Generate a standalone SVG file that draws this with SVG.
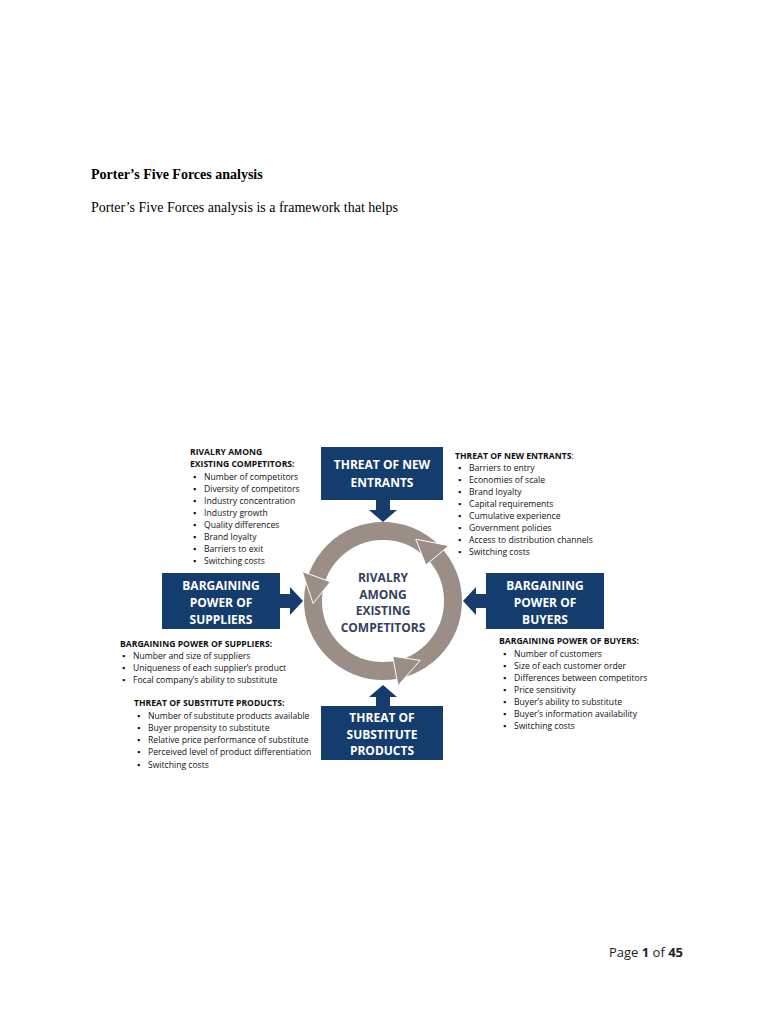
<svg xmlns="http://www.w3.org/2000/svg" width="768" height="1024" viewBox="0 0 768 1024">
<style>
.pg{font-family:"Liberation Serif",serif;font-size:14px;fill:#000}
.t{font-family:"Open Sans","Liberation Sans",sans-serif;font-size:8.6px;fill:#111}
.h{font-weight:bold}
.bx{fill:#143c6c}
.bt{font-family:"Open Sans","Liberation Sans",sans-serif;font-size:12px;font-weight:bold;fill:#fff;text-anchor:middle}
.ct{font-family:"Open Sans","Liberation Sans",sans-serif;font-size:12px;font-weight:bold;fill:#34405e;text-anchor:middle}
.ah{fill:#9a8e86;stroke:#fff;stroke-width:1}
</style>
<rect width="768" height="1024" fill="#fff"/>
<text class="pg h" x="91" y="179">Porter’s Five Forces analysis</text>
<text class="pg" x="91" y="212">Porter’s Five Forces analysis is a framework that helps</text>
<text x="609" y="957" font-family="Open Sans,Liberation Sans,sans-serif" font-size="13" fill="#222">Page <tspan font-weight="bold">1</tspan> of <tspan font-weight="bold">45</tspan></text>

<g id="ring">
<circle cx="383" cy="601" r="70" fill="none" stroke="#9a8e86" stroke-width="18"/>
<polygon class="ah" points="425.9,565 448.9,545.7 415.8,539.2"/>
<polygon class="ah" points="330.4,581.8 302.2,571.6 313.1,603.4"/>
<polygon class="ah" points="392.7,656.2 398,685.7 420.1,660.4"/>
<text class="ct" x="383" y="582">RIVALRY</text>
<text class="ct" x="383" y="599">AMONG</text>
<text class="ct" x="383" y="615">EXISTING</text>
<text class="ct" x="383" y="632">COMPETITORS</text>
</g>
<g id="connectors" class="bx">
<polygon points="376,500 390,500 390,510 397,510 383,522 369,510 376,510"/>
<polygon points="280,594 290,594 290,587 303,601 290,615 290,608 280,608"/>
<polygon points="486,594 476,594 476,587 463,601 476,615 476,608 486,608"/>
<polygon points="376,706 390,706 390,697 397,697 383,685 369,697 376,697"/>
</g>
<g id="new-entrants"><rect class="bx" x="321" y="447" width="122" height="53"/>
<text class="bt" x="382" y="469">THREAT OF NEW</text><text class="bt" x="382" y="487">ENTRANTS</text></g>
<g id="suppliers"><rect class="bx" x="162" y="573" width="118" height="56"/>
<text class="bt" x="221" y="590">BARGAINING</text><text class="bt" x="221" y="607">POWER OF</text><text class="bt" x="221" y="624">SUPPLIERS</text></g>
<g id="buyers"><rect class="bx" x="486" y="573" width="118" height="56"/>
<text class="bt" x="545" y="590">BARGAINING</text><text class="bt" x="545" y="607">POWER OF</text><text class="bt" x="545" y="624">BUYERS</text></g>
<g id="substitutes"><rect class="bx" x="321" y="706" width="122" height="54"/>
<text class="bt" x="382" y="722">THREAT OF</text><text class="bt" x="382" y="739">SUBSTITUTE</text><text class="bt" x="382" y="755">PRODUCTS</text></g>

<g id="rivalry-list" class="t">
<text class="h" x="190" y="455">RIVALRY AMONG</text>
<text class="h" x="190" y="467">EXISTING COMPETITORS:</text>
<g><text x="193" y="480">▪</text><text x="204" y="480">Number of competitors</text>
<text x="193" y="492">▪</text><text x="204" y="492">Diversity of competitors</text>
<text x="193" y="504">▪</text><text x="204" y="504">Industry concentration</text>
<text x="193" y="516">▪</text><text x="204" y="516">Industry growth</text>
<text x="193" y="528">▪</text><text x="204" y="528">Quality differences</text>
<text x="193" y="540">▪</text><text x="204" y="540">Brand loyalty</text>
<text x="193" y="552">▪</text><text x="204" y="552">Barriers to exit</text>
<text x="193" y="564">▪</text><text x="204" y="564">Switching costs</text></g>
</g>
<g id="entrants-list" class="t">
<text class="h" x="455" y="459">THREAT OF NEW ENTRANTS<tspan font-weight="normal">:</tspan></text>
<text x="458" y="471">▪</text><text x="469" y="471">Barriers to entry</text>
<text x="458" y="483">▪</text><text x="469" y="483">Economies of scale</text>
<text x="458" y="495">▪</text><text x="469" y="495">Brand loyalty</text>
<text x="458" y="507">▪</text><text x="469" y="507">Capital requirements</text>
<text x="458" y="519">▪</text><text x="469" y="519">Cumulative experience</text>
<text x="458" y="531">▪</text><text x="469" y="531">Government policies</text>
<text x="458" y="543">▪</text><text x="469" y="543">Access to distribution channels</text>
<text x="458" y="555">▪</text><text x="469" y="555">Switching costs</text>
</g>
<g id="suppliers-list" class="t">
<text class="h" x="120" y="647">BARGAINING POWER OF SUPPLIERS:</text>
<text x="122" y="659">▪</text><text x="133" y="659">Number  and size of suppliers</text>
<text x="122" y="671">▪</text><text x="133" y="671">Uniqueness of each supplier’s product</text>
<text x="122" y="683">▪</text><text x="133" y="683">Focal company’s ability to substitute</text>
</g>
<g id="substitutes-list" class="t">
<text class="h" x="134" y="706">THREAT OF SUBSTITUTE PRODUCTS:</text>
<text x="137" y="719">▪</text><text x="148" y="719">Number of substitute products available</text>
<text x="137" y="731">▪</text><text x="148" y="731">Buyer propensity to substitute</text>
<text x="137" y="743">▪</text><text x="148" y="743">Relative price performance of substitute</text>
<text x="137" y="755">▪</text><text x="148" y="755">Perceived level of product differentiation</text>
<text x="137" y="768">▪</text><text x="148" y="768">Switching costs</text>
</g>
<g id="buyers-list" class="t">
<text class="h" x="499" y="644">BARGAINING POWER OF BUYERS:</text>
<text x="503" y="657">▪</text><text x="514" y="657">Number of customers</text>
<text x="503" y="669">▪</text><text x="514" y="669">Size of each customer order</text>
<text x="503" y="681">▪</text><text x="514" y="681">Differences between competitors</text>
<text x="503" y="693">▪</text><text x="514" y="693">Price sensitivity</text>
<text x="503" y="705">▪</text><text x="514" y="705">Buyer’s ability to substitute</text>
<text x="503" y="717">▪</text><text x="514" y="717">Buyer’s information availability</text>
<text x="503" y="729">▪</text><text x="514" y="729">Switching costs</text>
</g>
</svg>
